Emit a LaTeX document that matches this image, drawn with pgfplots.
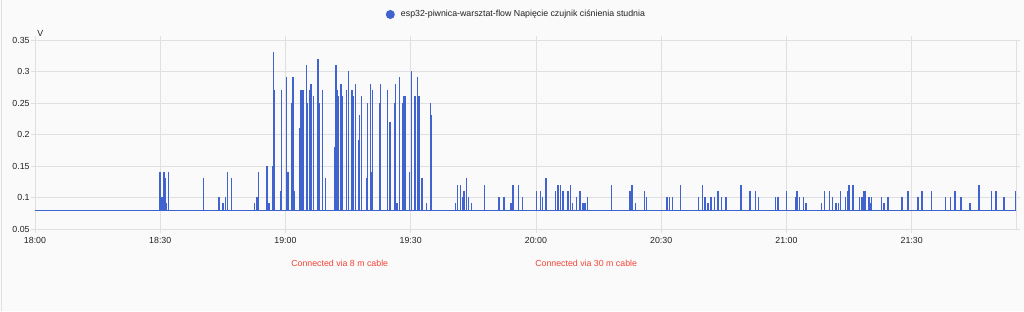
\documentclass[border=0pt]{standalone}
\usepackage{fontspec}
\setmainfont{Liberation Sans}
\usepackage{pgfplots}
\pgfplotsset{compat=1.18}
\definecolor{bg}{HTML}{FAFAFA}
\definecolor{sline}{HTML}{4163D0}
\definecolor{gridc}{HTML}{E0E0E0}
\definecolor{note}{HTML}{F44336}
\definecolor{txt}{HTML}{212121}
\begin{document}
\begin{tikzpicture}[x=1pt,y=1pt]
\useasboundingbox (0,0) rectangle (768,233.25);
\fill[bg] (0,0) rectangle (768,233.25);
\draw[gridc, line width=0.6pt] (1.2,0) -- (1.2,233.25);
\begin{axis}[
  at={(26.25pt,61.5pt)}, anchor=south west,
  scale only axis, width=735.75pt, height=141.75pt,
  xmin=0, xmax=235, ymin=0.05, ymax=0.35,
  xtick={0,30,60,90,120,150,180,210},
  xticklabels={18:00,18:30,19:00,19:30,20:00,20:30,21:00,21:30},
  ytick={0.05,0.1,0.15,0.2,0.25,0.3,0.35},
  yticklabels={0.05,0.1,0.15,0.2,0.25,0.3,0.35},
  grid=major, major grid style={gridc, line width=0.6pt},
  axis line style={gridc, line width=0.6pt},
  tick style={gridc, line width=0.6pt}, tick align=outside, major tick length=3pt,
  ticklabel style={font=\fontsize{6.6}{7.7}\selectfont, text=txt},
  yticklabel style={xshift=2.5pt},
  legend style={at={(0.491,1.135)}, anchor=center, draw=none, fill=none,
    font=\fontsize{6.6}{7.7}\selectfont, text=txt, legend columns=1},
  legend image code/.code={\path[draw=none, fill=none] (-3.5pt,-1pt) rectangle (6pt,1pt); \fill[sline, draw=none] (0,0) circle (3.4pt);},
]
\addplot[sline, line width=0.5pt, const plot, forget plot] coordinates {
(0,0.08)
(29.84,0.14) (29.94,0.08) (30.32,0.10) (30.42,0.08) (30.80,0.14) (30.90,0.08)
(31.09,0.13) (31.19,0.08) (31.45,0.09) (31.55,0.08) (31.93,0.14) (32.03,0.08)
(40.24,0.13) (40.34,0.08) (43.98,0.10) (44.08,0.08) (44.93,0.09) (45.03,0.08)
(45.51,0.10) (45.61,0.08) (45.99,0.14) (46.09,0.08) (46.95,0.13) (47.05,0.08)
(52.46,0.09) (52.56,0.08) (53.08,0.10) (53.18,0.08) (53.41,0.14) (53.51,0.08)
(55.47,0.15) (55.57,0.08) (55.95,0.09) (56.05,0.08) (56.77,0.15) (56.87,0.08)
(57.01,0.33) (57.11,0.08) (57.25,0.27) (57.35,0.08) (58.68,0.11) (58.78,0.08)
(58.99,0.27) (59.09,0.08) (60.19,0.29) (60.29,0.08) (60.50,0.14) (60.60,0.08)
(61.39,0.25) (61.49,0.08) (61.70,0.29) (61.80,0.08) (61.94,0.11) (62.04,0.08)
(63.31,0.21) (63.41,0.08) (63.62,0.27) (63.72,0.08) (63.86,0.09) (63.96,0.08)
(64.10,0.27) (64.20,0.08) (64.98,0.31) (65.08,0.08) (65.15,0.25) (65.25,0.08)
(65.77,0.27) (65.87,0.08) (66.01,0.28) (66.11,0.08) (66.59,0.26) (66.69,0.08)
(67.69,0.32) (67.79,0.08) (67.90,0.25) (68.00,0.08) (68.74,0.27) (68.84,0.08)
(69.53,0.13) (69.63,0.08) (71.76,0.18) (71.86,0.08) (72.00,0.31) (72.10,0.08)
(72.34,0.27) (72.44,0.08) (72.65,0.26) (72.75,0.08) (73.20,0.28) (73.30,0.08)
(73.60,0.26) (73.70,0.08) (74.49,0.27) (74.59,0.08) (75.04,0.30) (75.14,0.08)
(75.83,0.27) (75.93,0.08) (76.12,0.26) (76.22,0.08) (76.72,0.28) (76.82,0.08)
(77.44,0.19) (77.54,0.08) (77.68,0.23) (77.78,0.08) (78.16,0.26) (78.26,0.08)
(79.28,0.13) (79.38,0.08) (79.52,0.25) (79.62,0.08) (80.24,0.28) (80.34,0.08)
(80.55,0.14) (80.65,0.08) (80.79,0.27) (80.89,0.08) (82.40,0.25) (82.50,0.08)
(82.71,0.28) (82.81,0.08) (84.31,0.27) (84.41,0.08) (84.93,0.22) (85.03,0.08)
(85.99,0.25) (86.09,0.08) (86.30,0.28) (86.40,0.08) (86.61,0.09) (86.71,0.08)
(87.19,0.29) (87.29,0.08) (87.98,0.25) (88.08,0.08) (88.29,0.26) (88.39,0.08)
(88.69,0.26) (88.79,0.08) (89.65,0.14) (89.75,0.08) (90.06,0.30) (90.16,0.08)
(90.92,0.26) (91.02,0.08) (91.57,0.29) (91.67,0.08) (91.88,0.26) (91.98,0.08)
(92.60,0.13) (92.70,0.08) (93.65,0.09) (93.75,0.08) (94.61,0.25) (94.71,0.08)
(94.92,0.23) (95.02,0.08)
(100.67,0.09) (100.77,0.08) (101.08,0.12) (101.18,0.08) (101.80,0.12) (101.90,0.08)
(102.35,0.10) (102.45,0.08) (102.66,0.11) (102.76,0.08) (103.23,0.13) (103.33,0.08)
(103.71,0.10) (103.81,0.08) (104.50,0.09) (104.60,0.08) (107.54,0.12) (107.64,0.08)
(111.04,0.10) (111.14,0.08) (112.10,0.10) (112.20,0.08) (112.41,0.10) (112.51,0.08)
(113.92,0.09) (114.02,0.08) (114.40,0.12) (114.50,0.08) (115.69,0.12) (115.79,0.08)
(116.65,0.10) (116.75,0.08) (120.00,0.11) (120.10,0.08) (121.03,0.11) (121.13,0.08)
(121.44,0.10) (121.54,0.08) (122.20,0.13) (122.40,0.08) (124.55,0.11) (124.65,0.08)
(125.17,0.12) (125.27,0.08) (125.75,0.12) (125.85,0.08) (126.37,0.11) (126.47,0.08)
(127.57,0.11) (127.67,0.08) (128.22,0.12) (128.32,0.08) (128.69,0.09) (128.79,0.08)
(129.65,0.10) (129.75,0.08) (130.44,0.11) (130.54,0.08) (131.16,0.09) (131.26,0.08)
(131.64,0.09) (131.74,0.08) (132.29,0.10) (132.39,0.08) (138.04,0.12) (138.14,0.08)
(142.42,0.11) (142.52,0.08) (142.90,0.12) (143.00,0.08) (143.78,0.09) (143.88,0.08)
(145.87,0.11) (145.97,0.08) (146.35,0.10) (146.45,0.08) (151.28,0.10) (151.38,0.08)
(151.93,0.10) (152.03,0.08) (152.57,0.10) (152.67,0.08) (154.49,0.12) (154.59,0.08)
(158.80,0.10) (158.90,0.08) (159.83,0.12) (159.93,0.08) (160.38,0.10) (160.48,0.08)
(161.10,0.09) (161.20,0.08) (161.87,0.10) (161.97,0.08) (162.71,0.10) (162.81,0.08)
(163.50,0.11) (163.60,0.08) (164.31,0.10) (164.41,0.08) (165.41,0.10) (165.51,0.08)
(169.01,0.12) (169.11,0.08) (171.16,0.11) (171.26,0.08) (172.46,0.11) (172.56,0.08)
(173.25,0.10) (173.35,0.08) (177.25,0.10) (177.35,0.08) (177.87,0.10) (177.97,0.08)
(179.95,0.11) (180.05,0.08) (182.04,0.10) (182.14,0.08) (182.42,0.11) (182.52,0.08)
(183.07,0.10) (183.17,0.08) (184.02,0.10) (184.12,0.08) (184.58,0.09) (184.68,0.08)
(188.34,0.09) (188.44,0.08) (188.98,0.11) (189.08,0.08) (190.18,0.11) (190.28,0.08)
(190.97,0.10) (191.07,0.08) (191.76,0.09) (191.86,0.08) (192.34,0.09) (192.44,0.08)
(192.81,0.11) (192.91,0.08) (194.01,0.10) (194.11,0.08) (194.49,0.11) (194.59,0.08)
(194.87,0.12) (194.97,0.08) (195.83,0.12) (195.93,0.08) (197.44,0.10) (197.54,0.08)
(197.99,0.10) (198.09,0.08) (198.40,0.11) (198.50,0.08) (198.71,0.11) (198.81,0.08)
(199.66,0.10) (199.76,0.08) (199.90,0.09) (200.00,0.08) (200.31,0.10) (200.41,0.08)
(202.71,0.10) (202.81,0.08) (203.26,0.09) (203.36,0.08) (204.22,0.10) (204.32,0.08)
(207.57,0.10) (207.67,0.08) (209.01,0.11) (209.11,0.08) (211.40,0.10) (211.50,0.08)
(212.36,0.11) (212.46,0.08) (214.68,0.11) (214.78,0.08) (217.96,0.10) (218.06,0.08)
(219.16,0.10) (219.26,0.08) (220.26,0.11) (220.36,0.08) (221.70,0.10) (221.80,0.08)
(223.90,0.09) (224.00,0.08) (226.01,0.12) (226.11,0.08) (229.05,0.11) (229.15,0.08)
(230.13,0.11) (230.23,0.08) (232.00,0.10) (232.10,0.08) (234.80,0.11) (234.90,0.08)
(235.5,0.08)
};
\addlegendimage{sline}
\addlegendentry{esp32-piwnica-warsztat-flow Napięcie czujnik ciśnienia studnia}
\end{axis}
\node[anchor=south west, inner sep=0pt, font=\fontsize{6.6}{7.7}\selectfont, text=txt] at (27.8,205.5) {V};
\node[anchor=west, inner sep=0pt, font=\fontsize{6.6}{7.7}\selectfont, text=note] at (218.25,36) {Connected via 8 m cable};
\node[anchor=west, inner sep=0pt, font=\fontsize{6.6}{7.7}\selectfont, text=note] at (401.25,36) {Connected via 30 m cable};
\end{tikzpicture}
\end{document}
